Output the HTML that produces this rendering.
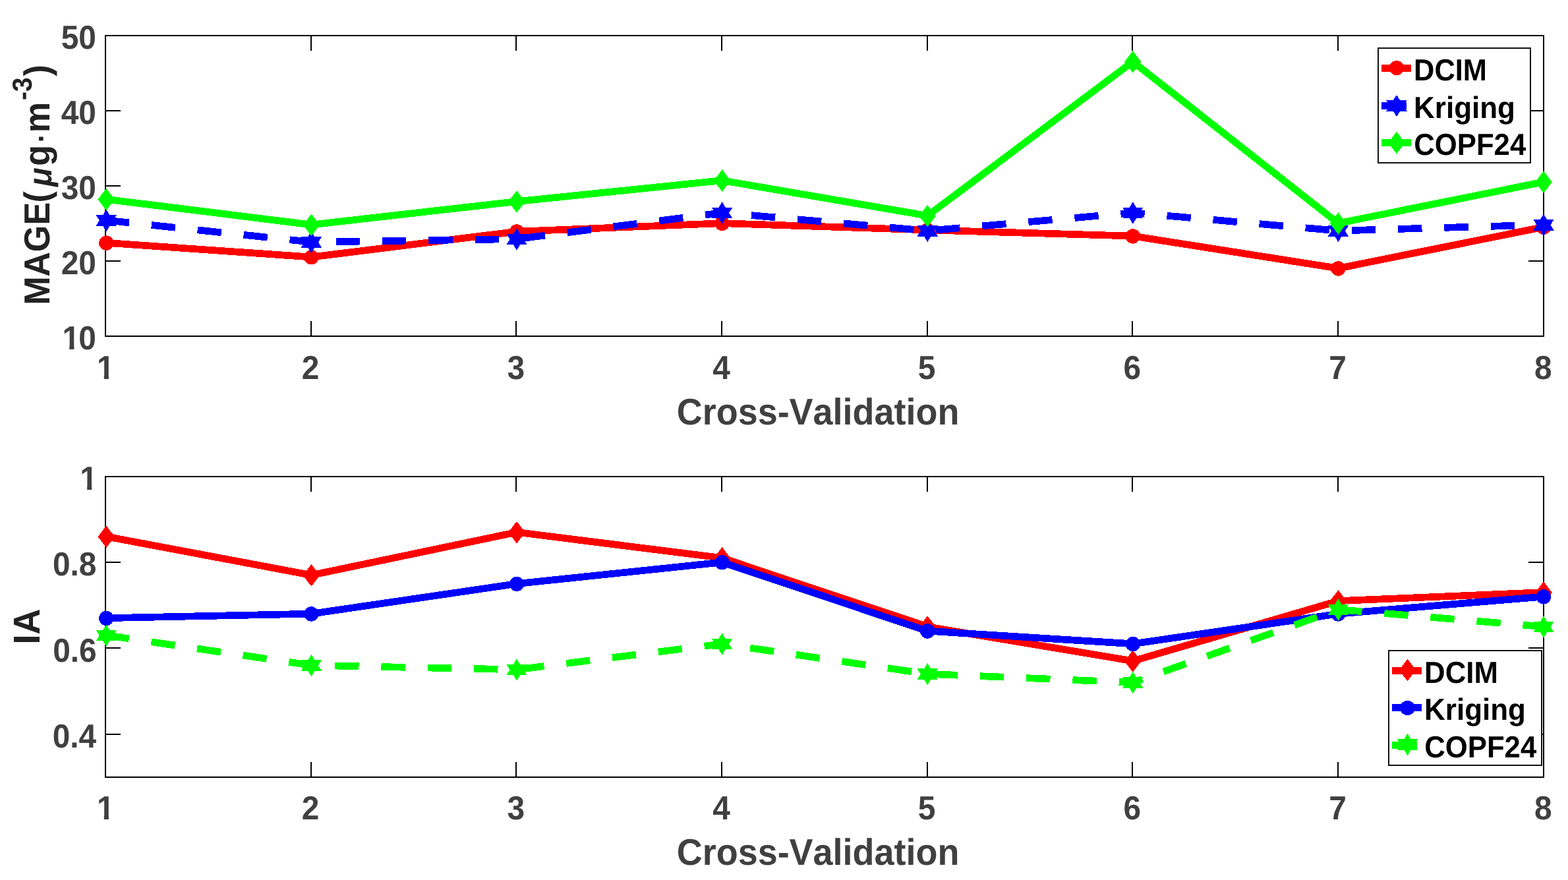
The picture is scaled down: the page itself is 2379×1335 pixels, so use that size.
<!DOCTYPE html>
<html lang="en">
<head>
<meta charset="utf-8">
<title>Cross-Validation: MAGE and IA</title>
<style>
html,body{margin:0;padding:0;background:#fff;}
body{width:2379px;height:1335px;overflow:hidden;}
svg{display:block;}
text{font-family:"Liberation Sans", sans-serif;font-weight:bold;font-kerning:none;text-rendering:geometricPrecision;}
.tk text{font-size:50.4px;fill:#404040;}
.xl{font-size:56.3px;fill:#404040;}
.yl{font-size:54.9px;fill:#222222;}
.ia{font-size:56.7px;}
.lg{font-size:46.1px;fill:#000000;}
.mu{font-style:italic;font-size:50px;}
.sup{font-size:41.6px;}
.dot{font-size:44px;}
</style>
</head>
<body>
<svg width="2379" height="1335" viewBox="0 0 2379 1335" role="img" aria-label="Cross-validation comparison of DCIM, Kriging and COPF24">
<defs>
<clipPath id="c1"><rect x="-4" y="-50.4" width="64.06" height="43.66"/><rect x="11.46" y="-7.74" width="7.52" height="9.74"/><rect x="28.03" y="-7.74" width="32.03" height="21.86"/></clipPath>
<clipPath id="c2"><rect x="-4" y="-50.4" width="36.03" height="43.66"/><rect x="11.46" y="-7.74" width="7.52" height="9.74"/></clipPath>
<clipPath id="c3"><rect x="-4" y="-50.4" width="36.03" height="43.66"/><rect x="11.46" y="-7.74" width="7.52" height="9.74"/></clipPath>
<clipPath id="c4"><rect x="-4" y="-50.4" width="36.03" height="43.66"/><rect x="11.46" y="-7.74" width="7.52" height="9.74"/></clipPath>
</defs>
<rect width="2379" height="1335" fill="#fff"/>
<!-- top panel: MAGE -->
<g shape-rendering="crispEdges">
<g stroke="#000" stroke-width="2" fill="none">
<rect x="160" y="54" width="2182" height="456"/>
<path d="M472 510v-23 M472 54v23 M783 510v-23 M783 54v23 M1095 510v-23 M1095 54v23 M1407 510v-23 M1407 54v23 M1718 510v-23 M1718 54v23 M2030 510v-23 M2030 54v23 M160 396h23 M2342 396h-23 M160 282h23 M2342 282h-23 M160 168h23 M2342 168h-23"/>
</g>
<polyline points="160.8,368.34 472.4,390 784,351.24 1095.6,338.7 1407.2,348.96 1718.8,358.08 2030.4,407.1 2342,344.4" fill="none" stroke="#ff0000" stroke-width="10.7" stroke-linejoin="miter" stroke-linecap="butt"/>
<circle cx="161.3" cy="368.64" r="11.2" fill="#ff0000"/><circle cx="472.4" cy="390.3" r="11.2" fill="#ff0000"/><circle cx="784" cy="351.54" r="11.2" fill="#ff0000"/><circle cx="1095.6" cy="339" r="11.2" fill="#ff0000"/><circle cx="1407.2" cy="349.26" r="11.2" fill="#ff0000"/><circle cx="1718.8" cy="358.38" r="11.2" fill="#ff0000"/><circle cx="2030.4" cy="407.4" r="11.2" fill="#ff0000"/><circle cx="2342" cy="344.7" r="11.2" fill="#ff0000"/>
<polyline points="160.8,334.14 472.4,367.2 784,362.64 1095.6,322.74 1407.2,350.1 1718.8,322.74 2030.4,350.1 2342,340.98" fill="none" stroke="#0000ff" stroke-width="10.7" stroke-linejoin="miter" stroke-linecap="butt" stroke-dasharray="36.4 33.93" stroke-dashoffset="1"/>
<polygon points="161.3,317.64 166.4,326.14 177,326.14 171.8,334.44 177,342.74 166.4,342.74 161.3,351.24 156.2,342.74 145.6,342.74 150.8,334.44 145.6,326.14 156.2,326.14" fill="#0000ff"/><polygon points="472.4,350.7 477.5,359.2 488.1,359.2 482.9,367.5 488.1,375.8 477.5,375.8 472.4,384.3 467.3,375.8 456.7,375.8 461.9,367.5 456.7,359.2 467.3,359.2" fill="#0000ff"/><polygon points="784,346.14 789.1,354.64 799.7,354.64 794.5,362.94 799.7,371.24 789.1,371.24 784,379.74 778.9,371.24 768.3,371.24 773.5,362.94 768.3,354.64 778.9,354.64" fill="#0000ff"/><polygon points="1095.6,306.24 1100.7,314.74 1111.3,314.74 1106.1,323.04 1111.3,331.34 1100.7,331.34 1095.6,339.84 1090.5,331.34 1079.9,331.34 1085.1,323.04 1079.9,314.74 1090.5,314.74" fill="#0000ff"/><polygon points="1407.2,333.6 1412.3,342.1 1422.9,342.1 1417.7,350.4 1422.9,358.7 1412.3,358.7 1407.2,367.2 1402.1,358.7 1391.5,358.7 1396.7,350.4 1391.5,342.1 1402.1,342.1" fill="#0000ff"/><polygon points="1718.8,306.24 1723.9,314.74 1734.5,314.74 1729.3,323.04 1734.5,331.34 1723.9,331.34 1718.8,339.84 1713.7,331.34 1703.1,331.34 1708.3,323.04 1703.1,314.74 1713.7,314.74" fill="#0000ff"/><polygon points="2030.4,333.6 2035.5,342.1 2046.1,342.1 2040.9,350.4 2046.1,358.7 2035.5,358.7 2030.4,367.2 2025.3,358.7 2014.7,358.7 2019.9,350.4 2014.7,342.1 2025.3,342.1" fill="#0000ff"/><polygon points="2342,324.48 2347.1,332.98 2357.7,332.98 2352.5,341.28 2357.7,349.58 2347.1,349.58 2342,358.08 2336.9,349.58 2326.3,349.58 2331.5,341.28 2326.3,332.98 2336.9,332.98" fill="#0000ff"/>
<polyline points="160.8,302.22 472.4,340.98 784,305.64 1095.6,273.72 1407.2,327.3 1718.8,93.6 2030.4,338.7 2342,276" fill="none" stroke="#00ff00" stroke-width="10.7" stroke-linejoin="miter" stroke-linecap="butt"/>
<polygon points="161.3,285.72 174.1,302.52 161.3,319.32 148.5,302.52" fill="#00ff00"/><polygon points="472.4,324.48 485.2,341.28 472.4,358.08 459.6,341.28" fill="#00ff00"/><polygon points="784,289.14 796.8,305.94 784,322.74 771.2,305.94" fill="#00ff00"/><polygon points="1095.6,257.22 1108.4,274.02 1095.6,290.82 1082.8,274.02" fill="#00ff00"/><polygon points="1407.2,310.8 1420,327.6 1407.2,344.4 1394.4,327.6" fill="#00ff00"/><polygon points="1718.8,77.1 1731.6,93.9 1718.8,110.7 1706,93.9" fill="#00ff00"/><polygon points="2030.4,322.2 2043.2,339 2030.4,355.8 2017.6,339" fill="#00ff00"/><polygon points="2342,259.5 2354.8,276.3 2342,293.1 2329.2,276.3" fill="#00ff00"/>
</g>
<g class="tk">
<text class="t" transform="translate(94.41 530) scale(0.95 1)" clip-path="url(#c1)">1<tspan dx="-1.79">0</tspan></text>
<text class="t" transform="translate(92.71 416) scale(0.95 1)">20</text>
<text class="t" transform="translate(92.71 302) scale(0.95 1)">30</text>
<text class="t" transform="translate(92.71 188) scale(0.95 1)">40</text>
<text class="t" transform="translate(92.71 74) scale(0.95 1)">50</text>
<text class="t" transform="translate(146.89 575) scale(0.95 1)" clip-path="url(#c2)">1</text>
<text class="t" transform="translate(457.7 575) scale(0.95 1)">2</text>
<text class="t" transform="translate(769.41 575) scale(0.95 1)">3</text>
<text class="t" transform="translate(1081.13 575) scale(0.95 1)">4</text>
<text class="t" transform="translate(1392.84 575) scale(0.95 1)">5</text>
<text class="t" transform="translate(1704.56 575) scale(0.95 1)">6</text>
<text class="t" transform="translate(2016.27 575) scale(0.95 1)">7</text>
<text class="t" transform="translate(2327.99 575) scale(0.95 1)">8</text>
</g>
<text class="xl" transform="translate(1026.79 644) scale(0.958 1)">Cross-Validation</text>
<text class="yl" transform="translate(75 0) rotate(-90) scale(0.95 1)"><tspan x="-487.1 -441.9 -402.4 -359.6 -323.6" y="0">MAGE(</tspan><tspan class="mu" x="-297.9" y="2.5">μ</tspan><tspan x="-265" y="0">g</tspan><tspan class="dot" x="-227.6" y="2">·</tspan><tspan x="-211.9" y="0">m</tspan><tspan class="sup" x="-159.9 -146.6" y="-26.7">-3</tspan><tspan x="-121.5" y="0">)</tspan></text>
<g>
<g shape-rendering="crispEdges">
<rect x="2091" y="73" width="231" height="174" fill="#fff" stroke="#111111" stroke-width="2"/>
<line x1="2096" y1="103.5" x2="2141" y2="103.5" stroke="#ff0000" stroke-width="10.7"/><circle cx="2119" cy="103.2" r="11.2" fill="#ff0000"/>
<line x1="2096" y1="160.5" x2="2134" y2="160.5" stroke="#0000ff" stroke-width="10.7"/><polygon points="2119,143.7 2124.1,152.2 2134.7,152.2 2129.5,160.5 2134.7,168.8 2124.1,168.8 2119,177.3 2113.9,168.8 2103.3,168.8 2108.5,160.5 2103.3,152.2 2113.9,152.2" fill="#0000ff"/>
<line x1="2096" y1="216.8" x2="2141" y2="216.8" stroke="#00ff00" stroke-width="10.7"/><polygon points="2119,199.8 2131.8,216.6 2119,233.4 2106.2,216.6" fill="#00ff00"/>
</g>
<text class="lg" transform="translate(2145.1 122) scale(0.9406 1)">DCIM</text>
<text class="lg" transform="translate(2145.06 179) scale(0.9539 1)">Kriging</text>
<text class="lg" transform="translate(2145.21 235) scale(0.9481 1)">COPF24</text>
</g>
<!-- bottom panel: IA -->
<g shape-rendering="crispEdges">
<g stroke="#000" stroke-width="2" fill="none">
<rect x="160" y="723" width="2182" height="456"/>
<path d="M472 1179v-23 M472 723v23 M783 1179v-23 M783 723v23 M1095 1179v-23 M1095 723v23 M1407 1179v-23 M1407 723v23 M1718 1179v-23 M1718 723v23 M2030 1179v-23 M2030 723v23 M160 1114h23 M2342 1114h-23 M160 983h23 M2342 983h-23 M160 853h23 M2342 853h-23"/>
</g>
<polyline points="160.8,813.9 472.4,872.53 784,807.39 1095.6,846.47 1407.2,950.7 1718.8,1002.81 2030.4,911.61 2342,898.59" fill="none" stroke="#ff0000" stroke-width="10.7" stroke-linejoin="miter" stroke-linecap="butt"/>
<polygon points="161.3,797.4 174.1,814.2 161.3,831 148.5,814.2" fill="#ff0000"/><polygon points="472.4,856.03 485.2,872.83 472.4,889.63 459.6,872.83" fill="#ff0000"/><polygon points="784,790.89 796.8,807.69 784,824.49 771.2,807.69" fill="#ff0000"/><polygon points="1095.6,829.97 1108.4,846.77 1095.6,863.57 1082.8,846.77" fill="#ff0000"/><polygon points="1407.2,934.2 1420,951 1407.2,967.8 1394.4,951" fill="#ff0000"/><polygon points="1718.8,986.31 1731.6,1003.11 1718.8,1019.91 1706,1003.11" fill="#ff0000"/><polygon points="2030.4,895.11 2043.2,911.91 2030.4,928.71 2017.6,911.91" fill="#ff0000"/><polygon points="2342,882.09 2354.8,898.89 2342,915.69 2329.2,898.89" fill="#ff0000"/>
<polyline points="160.8,937.67 472.4,931.16 784,885.56 1095.6,852.99 1407.2,957.21 1718.8,976.76 2030.4,931.16 2342,905.1" fill="none" stroke="#0000ff" stroke-width="10.7" stroke-linejoin="miter" stroke-linecap="butt"/>
<circle cx="161.3" cy="937.97" r="11.2" fill="#0000ff"/><circle cx="472.4" cy="931.46" r="11.2" fill="#0000ff"/><circle cx="784" cy="885.86" r="11.2" fill="#0000ff"/><circle cx="1095.6" cy="853.29" r="11.2" fill="#0000ff"/><circle cx="1407.2" cy="957.51" r="11.2" fill="#0000ff"/><circle cx="1718.8" cy="977.06" r="11.2" fill="#0000ff"/><circle cx="2030.4" cy="931.46" r="11.2" fill="#0000ff"/><circle cx="2342" cy="905.4" r="11.2" fill="#0000ff"/>
<polyline points="160.8,963.73 472.4,1009.33 784,1015.84 1095.6,976.76 1407.2,1022.36 1718.8,1035.39 2030.4,924.64 2342,950.7" fill="none" stroke="#00ff00" stroke-width="10.7" stroke-linejoin="miter" stroke-linecap="butt" stroke-dasharray="36.4 33.93" stroke-dashoffset="1"/>
<polygon points="161.3,947.23 166.4,955.73 177,955.73 171.8,964.03 177,972.33 166.4,972.33 161.3,980.83 156.2,972.33 145.6,972.33 150.8,964.03 145.6,955.73 156.2,955.73" fill="#00ff00"/><polygon points="472.4,992.83 477.5,1001.33 488.1,1001.33 482.9,1009.63 488.1,1017.93 477.5,1017.93 472.4,1026.43 467.3,1017.93 456.7,1017.93 461.9,1009.63 456.7,1001.33 467.3,1001.33" fill="#00ff00"/><polygon points="784,999.34 789.1,1007.84 799.7,1007.84 794.5,1016.14 799.7,1024.44 789.1,1024.44 784,1032.94 778.9,1024.44 768.3,1024.44 773.5,1016.14 768.3,1007.84 778.9,1007.84" fill="#00ff00"/><polygon points="1095.6,960.26 1100.7,968.76 1111.3,968.76 1106.1,977.06 1111.3,985.36 1100.7,985.36 1095.6,993.86 1090.5,985.36 1079.9,985.36 1085.1,977.06 1079.9,968.76 1090.5,968.76" fill="#00ff00"/><polygon points="1407.2,1005.86 1412.3,1014.36 1422.9,1014.36 1417.7,1022.66 1422.9,1030.96 1412.3,1030.96 1407.2,1039.46 1402.1,1030.96 1391.5,1030.96 1396.7,1022.66 1391.5,1014.36 1402.1,1014.36" fill="#00ff00"/><polygon points="1718.8,1018.89 1723.9,1027.39 1734.5,1027.39 1729.3,1035.69 1734.5,1043.99 1723.9,1043.99 1718.8,1052.49 1713.7,1043.99 1703.1,1043.99 1708.3,1035.69 1703.1,1027.39 1713.7,1027.39" fill="#00ff00"/><polygon points="2030.4,908.14 2035.5,916.64 2046.1,916.64 2040.9,924.94 2046.1,933.24 2035.5,933.24 2030.4,941.74 2025.3,933.24 2014.7,933.24 2019.9,924.94 2014.7,916.64 2025.3,916.64" fill="#00ff00"/><polygon points="2342,934.2 2347.1,942.7 2357.7,942.7 2352.5,951 2357.7,959.3 2347.1,959.3 2342,967.8 2336.9,959.3 2326.3,959.3 2331.5,951 2326.3,942.7 2336.9,942.7" fill="#00ff00"/>
</g>
<g class="tk">
<text class="t" transform="translate(79.7 1133.86) scale(0.95 1)">0.4</text>
<text class="t" transform="translate(80.17 1003.57) scale(0.95 1)">0.6</text>
<text class="t" transform="translate(79.91 873.29) scale(0.95 1)">0.8</text>
<text class="t" transform="translate(121.26 743) scale(0.95 1)" clip-path="url(#c3)">1</text>
<text class="t" transform="translate(146.89 1243) scale(0.95 1)" clip-path="url(#c4)">1</text>
<text class="t" transform="translate(457.7 1243) scale(0.95 1)">2</text>
<text class="t" transform="translate(769.41 1243) scale(0.95 1)">3</text>
<text class="t" transform="translate(1081.13 1243) scale(0.95 1)">4</text>
<text class="t" transform="translate(1392.84 1243) scale(0.95 1)">5</text>
<text class="t" transform="translate(1704.56 1243) scale(0.95 1)">6</text>
<text class="t" transform="translate(2016.27 1243) scale(0.95 1)">7</text>
<text class="t" transform="translate(2327.99 1243) scale(0.95 1)">8</text>
</g>
<text class="xl" transform="translate(1026.79 1312) scale(0.958 1)">Cross-Validation</text>
<text class="yl ia" transform="translate(60 0) rotate(-90) translate(-977.61 0) scale(0.9531 1)">IA</text>
<g>
<g shape-rendering="crispEdges">
<rect x="2107" y="987" width="232" height="174" fill="#fff" stroke="#111111" stroke-width="2"/>
<line x1="2112" y1="1017.5" x2="2157" y2="1017.5" stroke="#ff0000" stroke-width="10.7"/><polygon points="2135.5,999.8 2148.3,1016.6 2135.5,1033.4 2122.7,1016.6" fill="#ff0000"/>
<line x1="2112" y1="1073.5" x2="2157" y2="1073.5" stroke="#0000ff" stroke-width="10.7"/><circle cx="2135.5" cy="1074" r="11.2" fill="#0000ff"/>
<line x1="2112" y1="1130.5" x2="2150" y2="1130.5" stroke="#00ff00" stroke-width="10.7"/><polygon points="2135.5,1112.8 2140.6,1121.3 2151.2,1121.3 2146,1129.6 2151.2,1137.9 2140.6,1137.9 2135.5,1146.4 2130.4,1137.9 2119.8,1137.9 2125,1129.6 2119.8,1121.3 2130.4,1121.3" fill="#00ff00"/>
</g>
<text class="lg" transform="translate(2161.07 1036) scale(0.9496 1)">DCIM</text>
<text class="lg" transform="translate(2161.06 1092) scale(0.9539 1)">Kriging</text>
<text class="lg" transform="translate(2161.21 1149) scale(0.9481 1)">COPF24</text>
</g>
</svg>
</body>
</html>
